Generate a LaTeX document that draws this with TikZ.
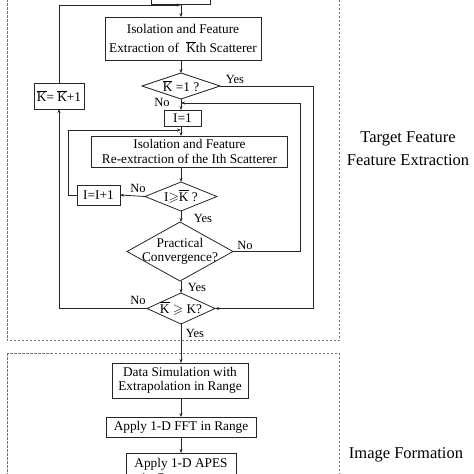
\documentclass[tikz,border=0pt]{standalone}
\usepackage{amsmath,amssymb}
\usepackage{fontspec}
\setmainfont{Liberation Serif}
\usetikzlibrary{shapes.geometric,arrows.meta}
\definecolor{ink}{HTML}{262626}
\definecolor{frame}{HTML}{707070}
\newcommand{\kb}{\ensuremath{\overline{\mbox{K}}}}
\tikzset{
  box/.style={draw=ink, line width=0.8pt, align=center, inner sep=0pt, outer sep=0pt, font=\fontsize{13.3}{14.5}\selectfont},
  test/.style={diamond, draw=ink, line width=0.8pt, align=center, inner sep=0pt, outer sep=0pt, font=\fontsize{13.3}{14.5}\selectfont},
  flow/.style={draw=ink, line width=0.8pt, -{Stealth[length=4pt,width=3pt]}},
  lab/.style={inner sep=0pt, font=\fontsize{12.5}{14}\selectfont},
  zone/.style={draw=frame, line width=0.7pt, dash pattern=on 2.5pt off 1.5pt},
  side/.style={align=center, font=\fontsize{16.5}{23}\selectfont}
}
\begin{document}
\begin{tikzpicture}[x=1pt, y=-1pt]
  \useasboundingbox (0,0) rectangle (474,474);
  \clip (0,0) rectangle (474,474);

  % dashed zones
  \draw[zone] (7,-5) rectangle (339,340.5);
  \draw[zone] (7,353) rectangle (339,490);
  \node[side] (tfe) at (408,149) {Target Feature\\Feature Extraction};
  \node[side] (imf) at (406,455) {Image Formation};

  % feature extraction loop
  \node[box, minimum width=59, minimum height=24] (prev) at (181,-8) {};
  \node[box, minimum width=156, minimum height=43] (iso1) at (183,38.5)
    {Isolation and Feature\\[5pt]Extraction of \hspace{4pt}\kb th Scatterer};
  \node[test, aspect=3, minimum width=78, minimum height=26] (dk1) at (181,86) {\kb\ =1 ?};
  \node[box, minimum width=50, minimum height=26] (kinc) at (59,96) {\kb= \kb+1};
  \node[box, minimum width=37, minimum height=16] (i1) at (182.5,118) {I=1};
  \node[box, minimum width=196, minimum height=31] (iso2) at (189.5,151.5)
    {Isolation and Feature\\Re-extraction of the Ith Scatterer};
  \node[test, aspect=2.5, minimum width=72, minimum height=29] (dig) at (181,196.5) {I$\geqslant$\kb\ ?};
  \node[box, minimum width=43, minimum height=20] (iinc) at (98.5,195) {I=I+1};
  \node[test, aspect=1.8, inner xsep=-14pt, inner ysep=-10pt, minimum width=106, minimum height=59] (dconv) at (180,251.5)
    {Practical\\Convergence?};
  \node[test, aspect=2.2, inner sep=-2pt, minimum width=68, minimum height=31] (dkk) at (181,308.5) {\kb\ $\geqslant$ K?};

  % image formation
  \node[box, minimum width=136, minimum height=35] (sim) at (180,380.5)
    {Data Simulation with\\Extrapolation in Range};
  \node[box, minimum width=150, minimum height=20] (fft) at (181,427) {Apply 1-D FFT in Range};
  \node[box, minimum width=110, minimum height=38, anchor=north] (apes) at (181,453)
    {Apply 1-D APES\\in Cross-range};

  \coordinate (j0) at (181,5);
  \coordinate (j1) at (181,103);
  \coordinate (j2) at (181,130);
  \coordinate (yr) at (313,86);
  \coordinate (nr) at (300,251.5);

  \draw[flow] (prev.south) -- (iso1.north -| prev.south);
  \draw[flow] (dkk.west) -| (kinc.south);
  \draw[flow] (kinc.north) |- (j0);
  \draw[flow] (iso1.south -| dk1.north) -- (dk1.north);
  \draw[flow] (dk1.south) -- (i1.north -| dk1.south);
  \draw[flow] (dk1.east) -- (yr) |- (dkk.east);
  \draw[flow] (dconv.east) -- (nr) |- (j1);
  \draw[flow] (i1.south -| j2) -- (iso2.north -| j2);
  \draw[flow] (iinc.west) -- ++(-9,0) |- (j2);
  \draw[flow] (iso2.south -| dig.north) -- (dig.north);
  \draw[flow] (dig.west) -- (iinc.east);
  \draw[flow] (dig.south) -- (dconv.north -| dig.south);
  \draw[flow] (dconv.south -| dkk.north) -- (dkk.north);
  \draw[flow] (dkk.south) -- (sim.north -| dkk.south);
  \draw[flow] (sim.south -| fft.north) -- (fft.north);
  \draw[flow] (fft.south) -- (apes.north);

  \node[lab] (y1) at (235,79) {Yes};
  \node[lab] (n1) at (162,102) {No};
  \node[lab] (n2) at (138,188) {No};
  \node[lab] (y2) at (203,218) {Yes};
  \node[lab] (n3) at (245,245) {No};
  \node[lab] (y3) at (197,287) {Yes};
  \node[lab] (n4) at (138,300) {No};
  \node[lab] (y4) at (195,333) {Yes};
\end{tikzpicture}
\end{document}
